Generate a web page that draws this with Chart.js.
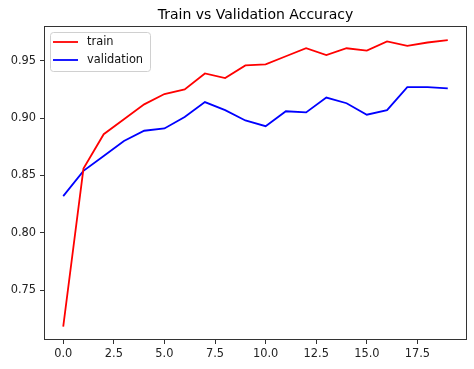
<!DOCTYPE html>
<html>
<head>
<meta charset="utf-8">
<script src="https://cdn.jsdelivr.net/npm/chart.js@4/dist/chart.umd.min.js"></script>
<style>
html,body{margin:0;padding:0;background:#fff;}
#wrap{width:474px;height:369px;position:relative;}
</style>
</head>
<body>
<div id="wrap"><canvas id="c" width="474" height="369"></canvas></div>
<script>
const epochs = [0,1,2,3,4,5,6,7,8,9,10,11,12,13,14,15,16,17,18,19];
const trainAcc = [0.718,0.856,0.886,0.899,0.912,0.921,0.925,0.939,0.935,0.946,0.947,0.954,0.961,0.955,0.961,0.959,0.967,0.963,0.966,0.968];
const valAcc = [0.832,0.854,0.867,0.880,0.889,0.891,0.901,0.914,0.907,0.898,0.893,0.906,0.905,0.918,0.913,0.903,0.907,0.927,0.927,0.926];
const xTicks = [0,2.5,5,7.5,10,12.5,15,17.5];
const xTickLabels = ["0.0","2.5","5.0","7.5","10.0","12.5","15.0","17.5"];
const yTicks = [0.75,0.80,0.85,0.90,0.95];
const yTickLabels = ["0.75","0.80","0.85","0.90","0.95"];
const seriesNames = ["train","validation"];
const titleText = "Train vs Validation Accuracy";

const FONT = "'DejaVu Sans', sans-serif";

const framePlugin = {
  id: 'frame',
  afterDatasetsDraw(chart) {
    const a = chart.chartArea, ctx = chart.ctx;
    ctx.save();
    ctx.strokeStyle = '#333';
    ctx.lineWidth = 1;
    ctx.strokeRect(Math.round(a.left) + 0.5, Math.round(a.top) + 0.5, Math.round(a.right - a.left) - 1, Math.round(a.bottom - a.top) - 1);
    ctx.restore();
  }
};

const legendPlugin = {
  id: 'innerLegend',
  afterDraw(chart) {
    const a = chart.chartArea, ctx = chart.ctx;
    const x0 = a.left + 6, y0 = a.top + 6, w = 100, h = 39;
    ctx.save();
    ctx.fillStyle = 'rgba(255,255,255,0.8)';
    ctx.strokeStyle = '#d0d0d0';
    ctx.lineWidth = 1;
    ctx.beginPath();
    ctx.roundRect(x0 + 0.5, y0 + 0.5, w, h, 3);
    ctx.fill();
    ctx.stroke();
    ctx.font = '11.4px ' + FONT;
    ctx.textBaseline = 'middle';
    chart.data.datasets.forEach((ds, i) => {
      const yy = y0 + 10 + i * 18;
      ctx.strokeStyle = ds.borderColor;
      ctx.lineWidth = 1.8;
      ctx.beginPath();
      ctx.moveTo(x0 + 3, yy);
      ctx.lineTo(x0 + 28, yy);
      ctx.stroke();
      ctx.fillStyle = '#111';
      ctx.fillText(ds.label, x0 + 37, yy);
    });
    ctx.restore();
  }
};

new Chart(document.getElementById('c'), {
  type: 'line',
  data: {
    datasets: [
      { label: seriesNames[0], data: epochs.map((e, i) => ({x: e, y: trainAcc[i]})), borderColor: '#ff0000', backgroundColor: '#ff0000', borderWidth: 1.8, pointRadius: 0, tension: 0 },
      { label: seriesNames[1], data: epochs.map((e, i) => ({x: e, y: valAcc[i]})), borderColor: '#0000ff', backgroundColor: '#0000ff', borderWidth: 1.8, pointRadius: 0, tension: 0 }
    ]
  },
  options: {
    responsive: false,
    animation: false,
    devicePixelRatio: 1,
    layout: { padding: { left: 0, right: 7, top: 0, bottom: 0 } },
    plugins: {
      legend: { display: false },
      tooltip: { enabled: false },
      title: {
        display: true, text: titleText, fullSize: false, color: '#000',
        font: { family: FONT, size: 14, weight: 'normal', lineHeight: 1.2 },
        padding: { top: 6.5, bottom: 2.7 }
      }
    },
    scales: {
      x: {
        type: 'linear', min: -0.95, max: 19.95,
        afterBuildTicks(s) { s.ticks = xTicks.map(v => ({ value: v })); },
        afterFit(s) { s.height = 29; },
        ticks: {
          callback: (v) => { const k = xTicks.indexOf(v); return k >= 0 ? xTickLabels[k] : ''; },
          font: { family: FONT, size: 11.4 }, color: '#222', padding: 3, maxRotation: 0, autoSkip: false
        },
        grid: { display: true, drawOnChartArea: false, drawTicks: true, tickLength: 4, color: '#333', tickWidth: 1 },
        border: { display: false }
      },
      y: {
        type: 'linear', min: 0.7064, max: 0.9804,
        afterBuildTicks(s) { s.ticks = yTicks.map(v => ({ value: v })); },
        afterFit(s) { s.width = 44; },
        ticks: {
          callback: (v) => { const k = yTicks.findIndex(t => Math.abs(t - v) < 1e-9); return k >= 0 ? yTickLabels[k] : ''; },
          font: { family: FONT, size: 11.4 }, color: '#222', padding: 4, autoSkip: false
        },
        grid: { display: true, drawOnChartArea: false, drawTicks: true, tickLength: 4, color: '#333', tickWidth: 1 },
        border: { display: false }
      }
    }
  },
  plugins: [framePlugin, legendPlugin]
});
</script>
</body>
</html>
